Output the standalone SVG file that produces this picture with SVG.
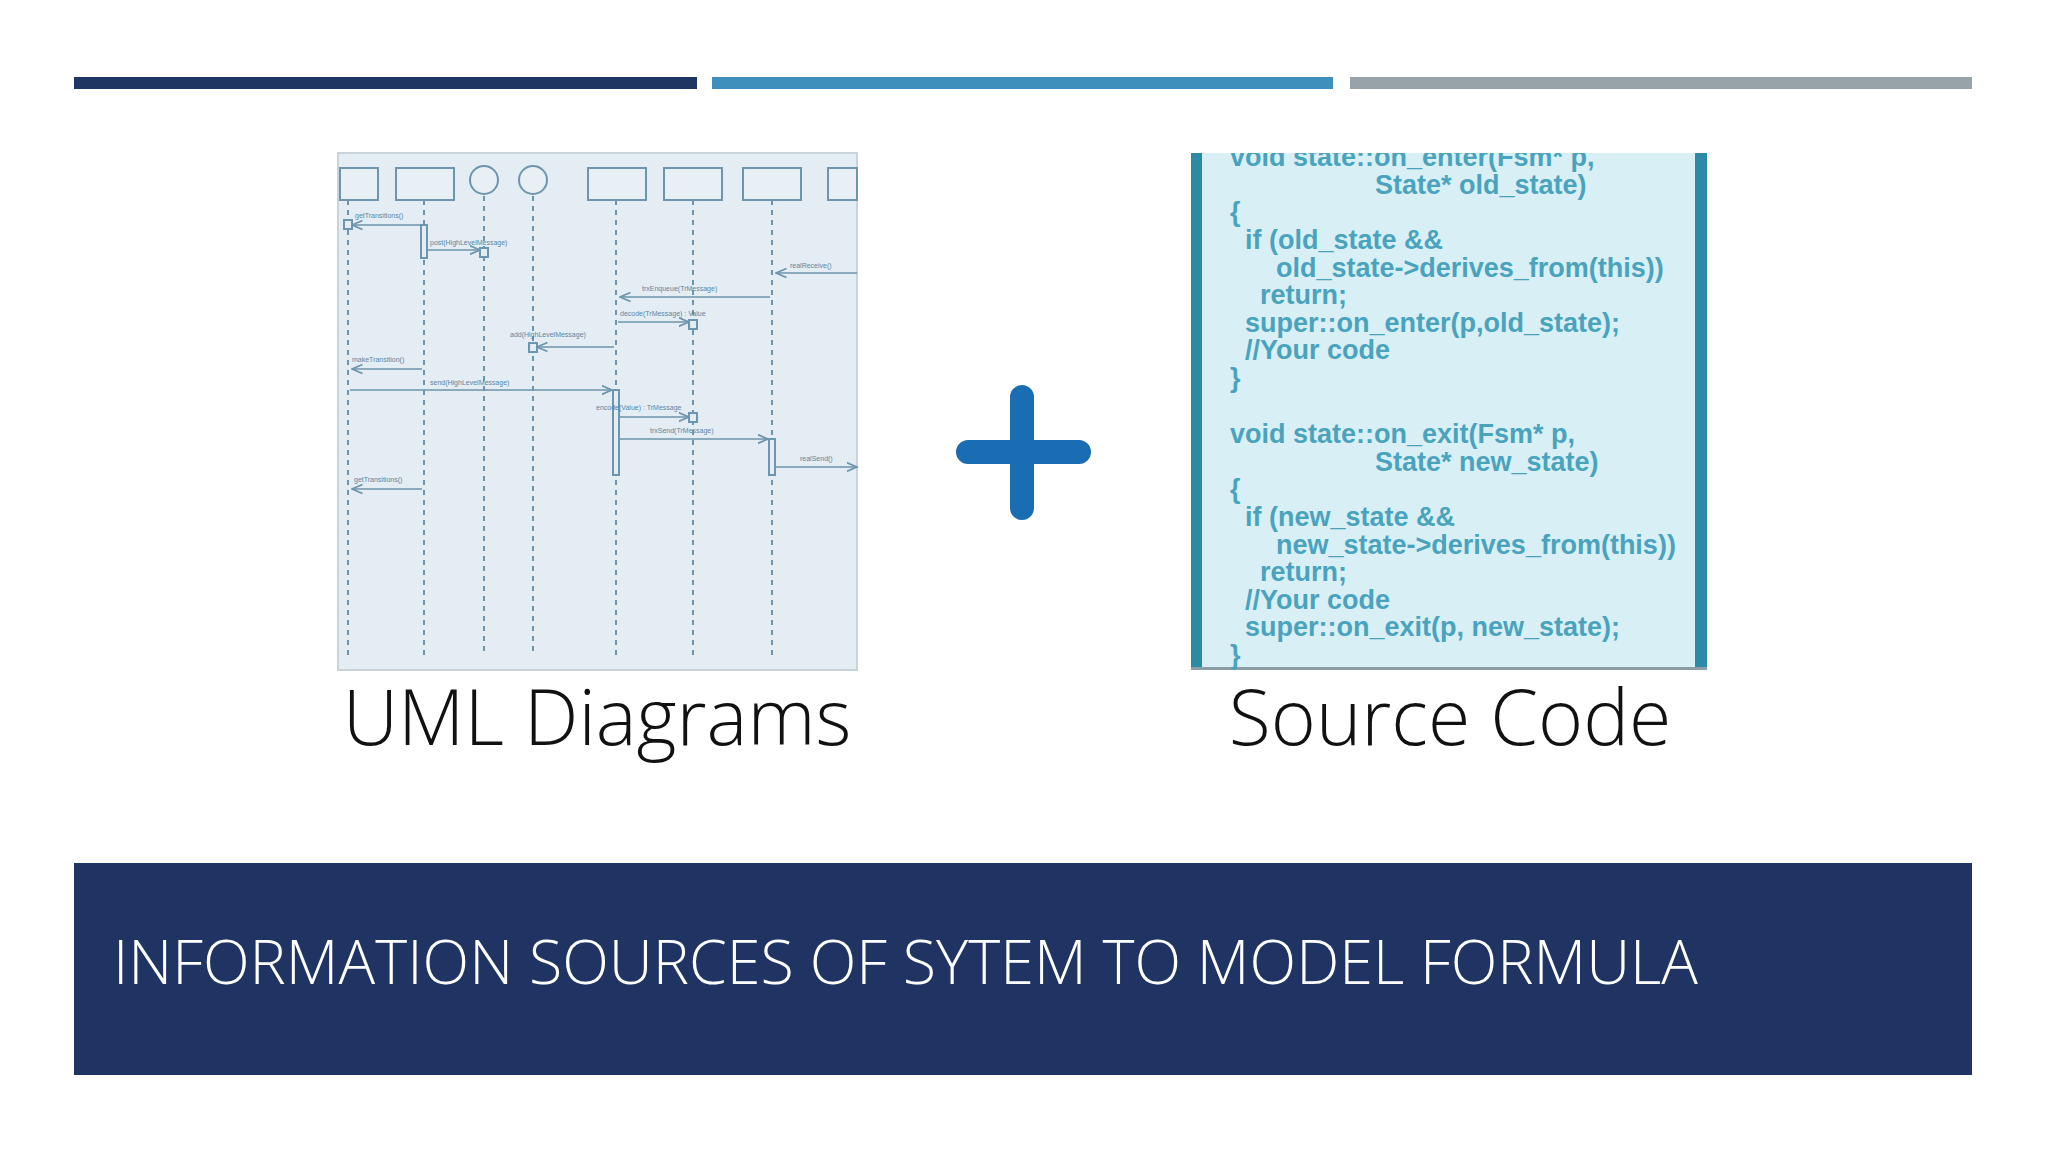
<svg xmlns="http://www.w3.org/2000/svg" width="2048" height="1152" viewBox="0 0 2048 1152">
<style>
.cap{font-family:"Open Sans","Noto Sans",sans-serif;font-weight:300;font-size:77px;fill:#111}
.code{font-family:"Liberation Sans",Arial,sans-serif;font-weight:bold;font-size:27px;fill:#4aa3bc}
.ll{stroke:#6d95ad;stroke-width:2;stroke-dasharray:5 5;fill:none}
.msg{stroke:#6d95ad;stroke-width:1.5;fill:none}
.hb{fill:#e9f0f5;stroke:#6d95ad;stroke-width:2}
.ml{font-family:"Liberation Sans",sans-serif;font-size:7px;fill:#5a86a3}
</style>
<defs>
<clipPath id="cc"><rect x="1191" y="153" width="516" height="517"/></clipPath>
<marker id="ah" markerWidth="8" markerHeight="8" refX="7" refY="4" orient="auto"><path d="M0,1 L7,4 L0,7" fill="none" stroke="#6d95ad" stroke-width="1.2"/></marker>
</defs>
<rect width="2048" height="1152" fill="#fff"/>
<g id="bars">
<rect x="74" y="77" width="623" height="12" fill="#1f3663"/>
<rect x="712" y="77" width="621" height="12" fill="#3f8fbd"/>
<rect x="1350" y="77" width="622" height="12" fill="#97a2a9"/>
</g>
<g id="uml">
<rect x="338" y="153" width="519" height="517" fill="#e4edf3" stroke="#c9d3da" stroke-width="2"/>
<rect x="340" y="168" width="38" height="32" class="hb"/>
<rect x="396" y="168" width="58" height="32" class="hb"/>
<circle cx="484" cy="180" r="14" class="hb"/>
<circle cx="533" cy="180" r="14" class="hb"/>
<rect x="588" y="168" width="58" height="32" class="hb"/>
<rect x="664" y="168" width="58" height="32" class="hb"/>
<rect x="743" y="168" width="58" height="32" class="hb"/>
<rect x="828" y="168" width="29" height="32" class="hb"/>
<g class="ll">
<path d="M348 200V660M424 200V660M484 196V655M533 196V655M616 200V660M693 200V660M772 200V660"/>
</g>
<g class="msg" marker-end="url(#ah)">
<path d="M422 225H352"/><path d="M428 250H480"/><path d="M857 273H776"/><path d="M770 297H620"/>
<path d="M618 322H689"/><path d="M614 347H537"/><path d="M422 369H352"/><path d="M350 390H612"/>
<path d="M620 417H689"/><path d="M620 439H768"/><path d="M776 467H857"/><path d="M422 489H352"/>
</g>
<g fill="#e4edf3" stroke="#6d95ad" stroke-width="2">
<rect x="344" y="220" width="8" height="9"/><rect x="421" y="225" width="6" height="33"/><rect x="480" y="248" width="8" height="9"/>
<rect x="689" y="320" width="8" height="9"/><rect x="529" y="343" width="8" height="9"/><rect x="613" y="390" width="6" height="85"/>
<rect x="689" y="413" width="8" height="9"/><rect x="769" y="439" width="6" height="36"/>
</g>
<text class="ml" x="355" y="218">getTransitions()</text>
<text class="ml" x="430" y="245">post(HighLevelMessage)</text>
<text class="ml" x="790" y="268">realReceive()</text>
<text class="ml" x="642" y="291">trxEnqueue(TrMessage)</text>
<text class="ml" x="620" y="316">decode(TrMessage) : Value</text>
<text class="ml" x="510" y="337">add(HighLevelMessage)</text>
<text class="ml" x="352" y="362">makeTransition()</text>
<text class="ml" x="430" y="385">send(HighLevelMessage)</text>
<text class="ml" x="596" y="410">encode(Value) : TrMessage</text>
<text class="ml" x="650" y="433">trxSend(TrMessage)</text>
<text class="ml" x="800" y="461">realSend()</text>
<text class="ml" x="354" y="482">getTransitions()</text>
</g>
<g id="code">
<rect x="1191" y="153" width="516" height="517" fill="#d8eff6"/>
<rect x="1191" y="153" width="11" height="517" fill="#2b8aa6"/>
<rect x="1695" y="153" width="12" height="517" fill="#2b8aa6"/>
<rect x="1191" y="667" width="516" height="3" fill="#8c9da5"/>
<g clip-path="url(#cc)" class="code">
<text x="1230" y="166">void state::on_enter(Fsm* p,</text>
<text x="1375" y="194">State* old_state)</text>
<text x="1230" y="221">{</text>
<text x="1245" y="249">if (old_state &amp;&amp;</text>
<text x="1276" y="277">old_state-&gt;derives_from(this))</text>
<text x="1260" y="304">return;</text>
<text x="1245" y="332">super::on_enter(p,old_state);</text>
<text x="1245" y="359">//Your code</text>
<text x="1230" y="387">}</text>
<text x="1230" y="443">void state::on_exit(Fsm* p,</text>
<text x="1375" y="471">State* new_state)</text>
<text x="1230" y="498">{</text>
<text x="1245" y="526">if (new_state &amp;&amp;</text>
<text x="1276" y="554">new_state-&gt;derives_from(this))</text>
<text x="1260" y="581">return;</text>
<text x="1245" y="609">//Your code</text>
<text x="1245" y="636">super::on_exit(p, new_state);</text>
<text x="1230" y="664">}</text>
</g>
</g>
<g id="plus" stroke="#1b6db3" stroke-width="24" stroke-linecap="round">
<path d="M968 452H1079M1022 397V508"/>
</g>
<text class="cap" x="597" y="745" text-anchor="middle">UML Diagrams</text>
<text class="cap" x="1450" y="745" text-anchor="middle">Source Code</text>
<g id="banner">
<rect x="74" y="863" width="1898" height="212" fill="#1f3463"/>
<text x="113" y="984" font-family="'Open Sans','Noto Sans',sans-serif" font-weight="300" font-size="61" fill="#fff">INFORMATION SOURCES OF SYTEM TO MODEL FORMULA</text>
</g>
</svg>
